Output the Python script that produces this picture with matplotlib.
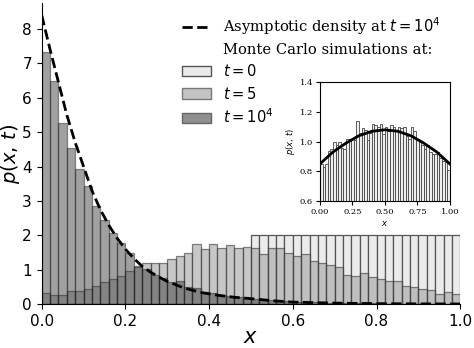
import numpy as np
import matplotlib
matplotlib.use("Agg")
import matplotlib.pyplot as plt
from matplotlib.lines import Line2D
from matplotlib.patches import Patch

# histogram bins: 50 bins on [0, 1]
bin_edges = np.linspace(0, 1, 51)

# Monte Carlo histograms
hist_t0 = [0.0] * 25 + [2.0] * 25
hist_t5 = [0.31, 0.26, 0.28, 0.39, 0.39, 0.44, 0.53, 0.63, 0.73, 0.81,
           0.96, 1.08, 1.20, 1.20, 1.20, 1.31, 1.40, 1.50, 1.74, 1.59,
           1.74, 1.62, 1.72, 1.64, 1.67, 1.62, 1.47, 1.62, 1.62, 1.50,
           1.40, 1.47, 1.25, 1.21, 1.13, 1.08, 0.86, 0.82, 0.92, 0.79,
           0.74, 0.67, 0.67, 0.54, 0.50, 0.43, 0.41, 0.29, 0.36, 0.30]
hist_t1e4 = [7.33, 6.48, 5.27, 4.53, 3.92, 3.43, 2.85, 2.46, 2.08, 1.79,
             1.50, 1.12, 1.03, 0.86, 0.76, 0.64, 0.67, 0.50, 0.47, 0.36,
             0.31, 0.28, 0.25, 0.22, 0.18, 0.16, 0.14, 0.12, 0.10, 0.08,
             0.07, 0.06, 0.05, 0.04, 0.04, 0.03, 0.03, 0.02, 0.02, 0.02,
             0.01, 0.01, 0.01, 0.01, 0.01, 0.01, 0.01, 0.01, 0.01, 0.01]

# asymptotic density curve
curve_x = [0.0, 0.02, 0.04, 0.06, 0.08, 0.10, 0.12, 0.14, 0.16, 0.18,
           0.20, 0.22, 0.24, 0.26, 0.28, 0.30, 0.34, 0.38, 0.42, 0.46,
           0.50, 0.55, 0.60, 0.70, 0.80, 0.90, 1.00]
curve_y = [8.4, 7.4, 6.45, 5.5, 4.7, 4.0, 3.3, 2.75, 2.3, 1.92,
           1.6, 1.33, 1.1, 0.93, 0.79, 0.66, 0.47, 0.34, 0.26, 0.2,
           0.16, 0.1, 0.06, 0.03, 0.015, 0.008, 0.005]

# inset histogram and curve
inset_hist = [0.85, 0.83, 0.85, 0.94, 0.95, 1.00, 0.98, 1.00, 0.96, 0.95,
              1.02, 1.02, 1.02, 1.01, 1.14, 1.06, 1.09, 1.08, 1.01, 1.06,
              1.12, 1.11, 1.10, 1.12, 1.05, 1.10, 1.07, 1.11, 1.10, 1.08,
              1.10, 1.09, 1.10, 1.04, 1.02, 1.10, 1.07, 1.02, 1.00, 0.98,
              0.95, 0.98, 0.93, 0.92, 0.92, 0.93, 0.89, 0.87, 0.86, 0.81]
inset_curve_x = [0.0, 0.1, 0.2, 0.3, 0.4, 0.5, 0.6, 0.7, 0.8, 0.9, 1.0]
inset_curve_y = [0.85, 0.93, 0.99, 1.04, 1.07, 1.08, 1.07, 1.04, 0.99, 0.93, 0.85]

fig = plt.figure(figsize=(4.74, 3.48), dpi=100)
ax = fig.add_axes([0.088, 0.126, 0.883, 0.865])

left = bin_edges[:-1]
width = np.diff(bin_edges)

ax.bar(left, hist_t0, width=width, align="edge", color="#ebebeb",
       edgecolor="#555555", linewidth=0.9)
ax.bar(left, hist_t5, width=width, align="edge", color="#a3a3a3",
       edgecolor="#333333", linewidth=0.9, alpha=0.6)
ax.bar(left, hist_t1e4, width=width, align="edge", color="#3a3a3a",
       edgecolor="#222222", linewidth=0.9, alpha=0.48)
ax.plot(curve_x, curve_y, "k--", linewidth=2)

ax.set_xlim(0, 1)
ax.set_ylim(0, 8.75)
ax.set_xticks([0.0, 0.2, 0.4, 0.6, 0.8, 1.0])
ax.set_yticks(range(0, 9))
ax.tick_params(labelsize=11)
ax.spines["top"].set_visible(False)
ax.spines["right"].set_visible(False)
ax.set_xlabel("$x$", fontsize=15)
ax.set_ylabel("$p(x,\\,t)$", fontsize=14)
ax.xaxis.set_label_coords(0.5, -0.077)
ax.yaxis.set_label_coords(-0.047, 0.5)

handles = [
    Line2D([], [], color="k", linestyle="--", linewidth=2),
    Line2D([], [], linestyle="none"),
    Patch(facecolor="#ebebeb", edgecolor="#555555"),
    Patch(facecolor="#c3c3c3", edgecolor="#777777"),
    Patch(facecolor="#8f8f8f", edgecolor="#666666"),
]
labels = [
    "Asymptotic density at $t = 10^4$",
    "Monte Carlo simulations at:",
    "$t = 0$",
    "$t = 5$",
    "$t = 10^4$",
]
fig.legend(handles, labels, loc="upper left", bbox_to_anchor=(0.384, 0.956),
           frameon=False, prop={"family": "DejaVu Serif", "size": 10.6},
           handlelength=2.0, labelspacing=0.42, borderpad=0, borderaxespad=0)

# inset
axin = fig.add_axes([0.675, 0.4224, 0.274, 0.341])
axin.bar(left, inset_hist, width=width, align="edge", color="#eeeeee",
         edgecolor="#444444", linewidth=0.6)
axin.plot(inset_curve_x, inset_curve_y, "k-", linewidth=2)
axin.set_xlim(0, 1)
axin.set_ylim(0.6, 1.4)
axin.set_xticks([0.0, 0.25, 0.5, 0.75, 1.0])
axin.set_yticks([0.6, 0.8, 1.0, 1.2, 1.4])
axin.set_xticklabels(["0.00", "0.25", "0.50", "0.75", "1.00"])
for lab in axin.get_xticklabels() + axin.get_yticklabels():
    lab.set_family("DejaVu Serif")
axin.tick_params(labelsize=6, length=3, pad=2)
axin.set_xlabel("$x$", fontsize=6, labelpad=2)
axin.set_ylabel("$p(x,\\,t)$", fontsize=6, labelpad=2)

fig.savefig("out.png", dpi=100)
